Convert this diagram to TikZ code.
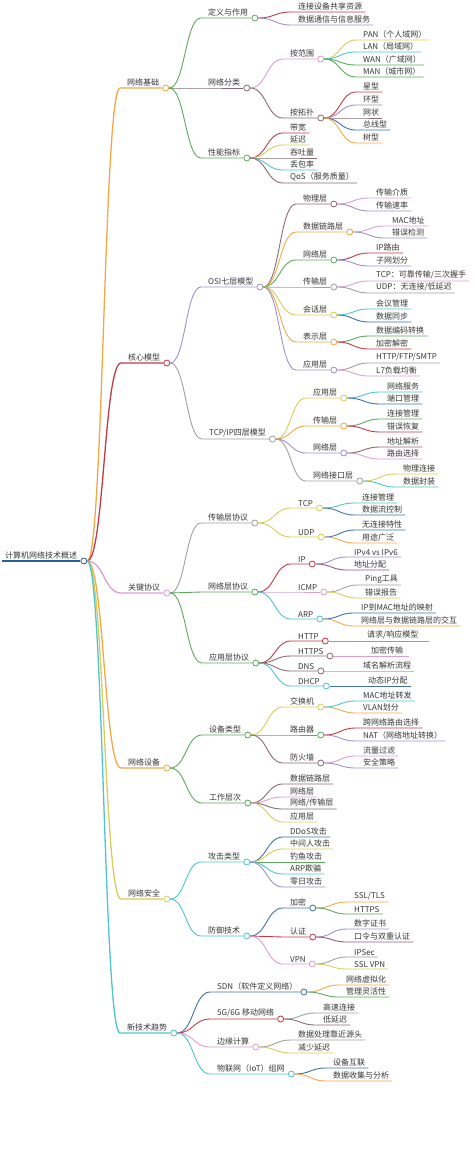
\documentclass[tikz,border=0pt]{standalone}
\usepackage{fontspec}
\setmainfont{Noto Sans CJK SC}
\usetikzlibrary{calc}
\definecolor{txtgray}{HTML}{363636}
\definecolor{croot}{HTML}{2E5C96}
\definecolor{corange}{HTML}{F0A848}
\definecolor{cred}{HTML}{C03A4A}
\definecolor{cpink}{HTML}{D9A0D0}
\definecolor{cgreen}{HTML}{5EA85E}
\definecolor{cbrown}{HTML}{8A6A70}
\definecolor{clav}{HTML}{A090C8}
\definecolor{ccyan}{HTML}{50C4CC}
\definecolor{cblue}{HTML}{3F72A8}
\definecolor{cyellow}{HTML}{D6CE58}
\definecolor{cgray}{HTML}{A0A0A0}
\definecolor{cplum}{HTML}{8E5A80}
\newcommand{\mmfont}{\fontsize{8}{9}\selectfont}
\tikzset{
  txt/.style   ={anchor=south west,inner xsep=3pt,inner ysep=1.5pt,xshift=-3pt,
                 font=\mmfont,text=txtgray},
  knob/.style  ={circle,draw=#1,fill=white,line width=0.8pt,minimum size=6pt,
                 inner sep=0pt,anchor=west},
  ln/.style    ={draw=#1,line width=0.9pt},
  curvy/.style ={to path={let \p1=(\tikztostart),\p2=(\tikztotarget),
                 \n1={0.5*(\x1+\x2)} in
                 .. controls (\n1,\y1) and (\n1,\y2) .. (\tikztotarget)}},
}
% [gap]{parent circle}{name}{colour}{x}{y}{text}
\newcommand{\topic}[7][4]{%
  \node[txt] (#3) at (#5,#6) {#7};
  \node[knob=#4] (#3c) at (#3.south east) {};
  \draw[ln=#4] (#2.east) to[curvy] ([xshift=-#1pt]#3.south west) -- (#3c.west);
}
\newcommand{\leaf}[7][4]{%
  \node[txt] (#3) at (#5,#6) {#7};
  \draw[ln=#4] (#2.east) to[curvy] ([xshift=-#1pt]#3.south west) -- (#3.south east);
}

\begin{document}
\begin{tikzpicture}[x=1pt,y=-1pt]
\useasboundingbox (0,0) rectangle (474,1169);

% root
\node[txt] (root) at (5,561) {计算机网络技术概述};
\node[knob=croot] (rootc) at (root.south east) {};
\draw[croot,line width=1.8pt] (root.south west) -- (rootc.west);

% ---- main branches ----------------------------------------------------
\begin{scope}[ln/.append style={line width=1.3pt}]
\topic{rootc}{base}{corange}{127}{88}{网络基础}
\topic{rootc}{core}{cred}{128}{363}{核心模型}
\topic{rootc}{proto}{cpink}{128}{593}{关键协议}
\topic{rootc}{dev}{corange}{128}{768}{网络设备}
\topic{rootc}{sec}{cyellow}{128}{899}{网络安全}
\topic{rootc}{trend}{ccyan}{127}{1033}{新技术趋势}
\end{scope}

% ---- 网络基础 ----------------------------------------------------------
\topic{basec}{def}{cgreen}{208}{18}{定义与作用}
\topic{basec}{kind}{cbrown}{208}{88}{网络分类}
\topic{basec}{perf}{cgreen}{208}{158}{性能指标}
\leaf{defc}{share}{cred}{298}{12}{连接设备共享资源}
\leaf{defc}{comm}{clav}{298}{25}{数据通信与信息服务}
\topic{kindc}{range}{cpink}{290}{59}{按范围}
\topic{kindc}{topo}{cbrown}{290}{118}{按拓扑}
\leaf{rangec}{pan}{cyellow}{363}{40}{PAN（个人域网）}
\leaf{rangec}{lan}{ccyan}{363}{52}{LAN（局域网）}
\leaf{rangec}{wan}{cgreen}{363}{65}{WAN（广域网）}
\leaf{rangec}{man}{cgreen}{363}{77}{MAN（城市网）}
\leaf{topoc}{star}{cred}{363}{92}{星型}
\leaf{topoc}{ring}{clav}{363}{105}{环型}
\leaf{topoc}{mesh}{cbrown}{363}{118}{网状}
\leaf{topoc}{bus}{cblue}{363}{130}{总线型}
\leaf{topoc}{tree}{corange}{363}{143}{树型}
\leaf{perfc}{bw}{cred}{290}{133}{带宽}
\leaf{perfc}{lat}{cyellow}{290}{145}{延迟}
\leaf{perfc}{thru}{cbrown}{290}{158}{吞吐量}
\leaf{perfc}{loss}{ccyan}{290}{170}{丢包率}
\leaf{perfc}{qos}{cbrown}{290}{183}{QoS（服务质量）}

% ---- 核心模型 ----------------------------------------------------------
\topic{corec}{osi}{clav}{208}{287}{OSI七层模型}
\topic{corec}{tcpip}{cgray}{209}{439}{TCP/IP四层模型}
\topic{osic}{phy}{cbrown}{303}{204}{物理层}
\topic{osic}{dll}{corange}{303}{232}{数据链路层}
\topic{osic}{netl}{cgreen}{303}{260}{网络层}
\topic{osic}{tpl}{cgray}{303}{287}{传输层}
\topic{osic}{ses}{cyellow}{303}{315}{会话层}
\topic{osic}{pres}{corange}{303}{342}{表示层}
\topic{osic}{appl}{clav}{303}{370}{应用层}
\leaf{phyc}{medium}{cpink}{376}{198}{传输介质}
\leaf{phyc}{rate}{clav}{376}{211}{传输速率}
\leaf{dllc}{mac}{cpink}{392}{226}{MAC地址}
\leaf{dllc}{errdet}{clav}{392}{238}{错误检测}
\leaf{netlc}{iprt}{cred}{376}{253}{IP路由}
\leaf{netlc}{subnet}{clav}{376}{266}{子网划分}
\leaf{tplc}{tcpl}{cpink}{376}{281}{TCP：可靠传输/三次握手}
\leaf{tplc}{udpl}{cgray}{376}{293}{UDP：无连接/低延迟}
\leaf{sesc}{sesmgmt}{ccyan}{376}{309}{会议管理}
\leaf{sesc}{sync}{cblue}{376}{322}{数据同步}
\leaf{presc}{encode}{cgreen}{376}{336}{数据编码转换}
\leaf{presc}{crypt}{cred}{376}{349}{加密解密}
\leaf{applc}{httpx}{cgray}{376}{363}{HTTP/FTP/SMTP}
\leaf{applc}{lb}{cpink}{376}{376}{L7负载均衡}
\topic{tcpipc}{tapp}{cyellow}{313}{398}{应用层}
\topic{tcpipc}{ttrans}{corange}{313}{426}{传输层}
\topic{tcpipc}{tnet}{clav}{313}{453}{网络层}
\topic{tcpipc}{tlink}{cgray}{313}{481}{网络接口层}
\leaf{tappc}{svc}{ccyan}{387}{392}{网络服务}
\leaf{tappc}{port}{cblue}{387}{404}{端口管理}
\leaf{ttransc}{conn}{cgreen}{387}{419}{连接管理}
\leaf{ttransc}{recov}{cred}{387}{432}{错误恢复}
\leaf{tnetc}{addr}{cbrown}{387}{447}{地址解析}
\leaf{tnetc}{route}{cpink}{387}{459}{路由选择}
\leaf{tlinkc}{phys}{cyellow}{403}{474}{物理连接}
\leaf{tlinkc}{encap}{ccyan}{403}{487}{数据封装}

% ---- 关键协议 ----------------------------------------------------------
\topic{protoc}{tproto}{cgray}{208}{523}{传输层协议}
\topic{protoc}{nproto}{cgreen}{208}{592}{网络层协议}
\topic{protoc}{aproto}{cgreen}{209}{663}{应用层协议}
\topic{tprotoc}{tcp}{cyellow}{298}{508}{TCP}
\topic{tprotoc}{udp}{cyellow}{298}{537}{UDP}
\leaf{tcpc}{tcpconn}{ccyan}{362}{503}{连接管理}
\leaf{tcpc}{flow}{cblue}{362}{515}{数据流控制}
\leaf{udpc}{connless}{cblue}{362}{530}{无连接特性}
\leaf{udpc}{wide}{corange}{362}{543}{用途广泛}
\topic{nprotoc}{ip}{cred}{298}{564}{IP}
\topic{nprotoc}{icmp}{cpink}{298}{592}{ICMP}
\topic{nprotoc}{arp}{ccyan}{298}{619}{ARP}
\leaf{ipc}{ipver}{clav}{354}{557}{IPv4 vs IPv6}
\leaf{ipc}{alloc}{cplum}{354}{570}{地址分配}
\leaf{icmpc}{ping}{cgray}{365}{585}{Ping工具}
\leaf{icmpc}{report}{cyellow}{365}{598}{错误报告}
\leaf{arpc}{ipmac}{cblue}{361}{613}{IP到MAC地址的映射}
\leaf{arpc}{inter}{corange}{361}{626}{网络层与数据链路层的交互}
\topic{aprotoc}{http}{cred}{298}{641}{HTTP}
\topic{aprotoc}{https}{cbrown}{298}{656}{HTTPS}
\topic{aprotoc}{dns}{cbrown}{298}{671}{DNS}
\topic{aprotoc}{dhcp}{ccyan}{298}{686}{DHCP}
\node[txt] (reqres) at (367,641) {请求/响应模型};
\node[txt] (secure) at (371,656) {加密传输};
\node[txt] (resolve) at (363,671) {域名解析流程};
\node[txt] (dynip) at (368,686) {动态IP分配};
\draw[ln=clav] (httpc.east) -- ([xshift=7pt]reqres.south east);
\draw[ln=cpink] (httpsc.east) -- ([xshift=3pt]secure.south east);
\draw[ln=cyellow] (dnsc.east) -- (resolve.south east);
\draw[ln=cblue] (dhcpc.east) -- (dynip.south east);

% ---- 网络设备 ----------------------------------------------------------
\topic{devc}{dtype}{cgreen}{209}{735}{设备类型}
\topic{devc}{layer}{cgreen}{209}{803}{工作层次}
\topic{dtypec}{switch}{cyellow}{290}{707}{交换机}
\topic{dtypec}{router}{cgreen}{290}{735}{路由器}
\topic{dtypec}{fw}{cbrown}{290}{763}{防火墙}
\leaf{switchc}{macfwd}{ccyan}{363}{701}{MAC地址转发}
\leaf{switchc}{vlan}{corange}{363}{713}{VLAN划分}
\leaf{routerc}{xroute}{cred}{363}{728}{跨网络路由选择}
\leaf{routerc}{nat}{clav}{363}{741}{NAT（网络地址转换）}
\leaf{fwc}{filter}{cpink}{363}{756}{流量过滤}
\leaf{fwc}{policy}{clav}{363}{768}{安全策略}
\leaf{layerc}{ltwo}{cbrown}{290}{784}{数据链路层}
\leaf{layerc}{lthree}{cpink}{290}{797}{网络层}
\leaf{layerc}{lfour}{cbrown}{290}{809}{网络/传输层}
\leaf{layerc}{lseven}{cyellow}{290}{822}{应用层}

% ---- 网络安全 ----------------------------------------------------------
\topic{secc}{attack}{ccyan}{208}{862}{攻击类型}
\topic{secc}{defense}{ccyan}{208}{936}{防御技术}
\leaf{attackc}{ddos}{cblue}{290}{837}{DDoS攻击}
\leaf{attackc}{mitm}{cyellow}{290}{849}{中间人攻击}
\leaf{attackc}{phish}{cgreen}{290}{862}{钓鱼攻击}
\leaf{attackc}{spoof}{ccyan}{290}{874}{ARP欺骗}
\leaf{attackc}{zeroday}{clav}{290}{887}{零日攻击}
\topic{defensec}{enc}{cblue}{290}{908}{加密}
\topic{defensec}{auth}{cred}{290}{937}{认证}
\topic{defensec}{vpn}{cpink}{290}{964}{VPN}
\leaf{encc}{tls}{corange}{354}{902}{SSL/TLS}
\leaf{encc}{httpsb}{cgreen}{354}{914}{HTTPS}
\leaf{authc}{cert}{clav}{354}{929}{数字证书}
\leaf{authc}{mfa}{cplum}{354}{942}{口令与双重认证}
\leaf{vpnc}{ipsec}{cgray}{354}{957}{IPSec}
\leaf{vpnc}{sslvpn}{cyellow}{354}{969}{SSL VPN}

% ---- 新技术趋势 --------------------------------------------------------
\topic{trendc}{sdn}{cblue}{217}{992}{SDN（软件定义网络）}
\topic{trendc}{gnet}{cred}{217}{1019}{5G/6G 移动网络}
\topic{trendc}{edgecomp}{cpink}{217}{1047}{边缘计算}
\topic{trendc}{iot}{ccyan}{217}{1074}{物联网（IoT）组网}
\leaf{sdnc}{virt}{corange}{346}{985}{网络虚拟化}
\leaf{sdnc}{flex}{cgreen}{346}{997}{管理灵活性}
\leaf{gnetc}{speed}{cgray}{323}{1013}{高速连接}
\leaf{gnetc}{lowlat}{cbrown}{323}{1025}{低延迟}
\leaf{edgecompc}{nearsrc}{cgray}{298}{1040}{数据处理靠近源头}
\leaf{edgecompc}{lesslat}{cyellow}{298}{1053}{减少延迟}
\leaf{iotc}{devlink}{cblue}{333}{1068}{设备互联}
\leaf{iotc}{analyt}{corange}{333}{1081}{数据收集与分析}
\end{tikzpicture}
\end{document}
